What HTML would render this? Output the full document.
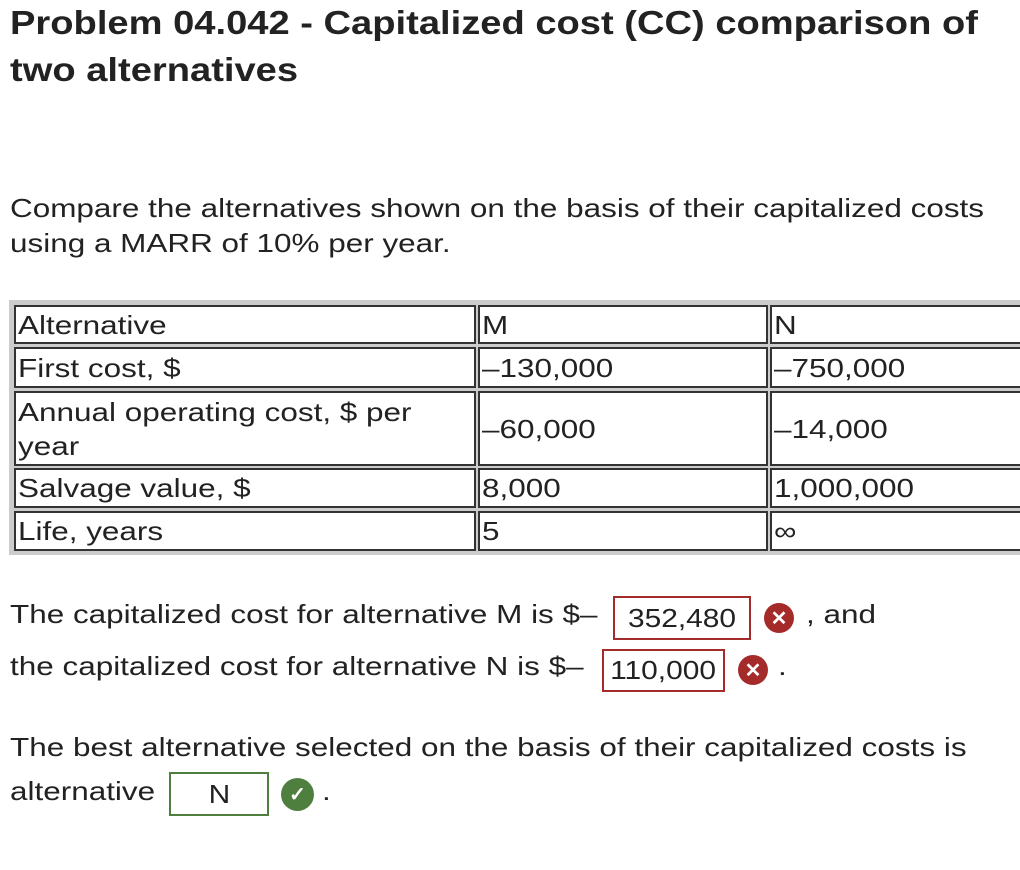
<!DOCTYPE html>
<html><head><meta charset="utf-8"><style>
body{margin:0;width:1020px;height:870px;background:#fff;font-family:"Liberation Sans",sans-serif;color:#222;position:relative;overflow:hidden}
.a{position:absolute;white-space:nowrap;transform-origin:0 0}
.t{font-weight:bold;font-size:33px;color:#222;transform:scaleX(1.155)}
.p{font-size:26px;transform:scaleX(1.21)}
.cell{position:absolute;border:2px solid #333;box-shadow:0 0 0 2px #ccc;box-sizing:border-box;font-size:26px;line-height:34px;padding-left:2px;display:flex;align-items:center;white-space:nowrap}
.s{display:inline-block;transform:scaleX(1.21);transform-origin:0 50%}
.box{position:absolute;box-sizing:border-box;border:2px solid #a52a2a;font-size:26px;display:flex;align-items:center;justify-content:center}
.box span{display:inline-block;transform:scaleX(1.15)}
.ic{position:absolute;width:30px;height:30px;border-radius:50%;color:#fff;font-weight:bold;font-size:20px;display:flex;align-items:center;justify-content:center}
</style></head><body>
<div class="a t" style="left:10px;top:4px">Problem 04.042 - Capitalized cost (CC) comparison of</div>
<div class="a t" style="left:10px;top:51px">two alternatives</div>
<div class="a p" style="left:10px;top:193px">Compare the alternatives shown on the basis of their capitalized costs</div>
<div class="a p" style="left:10px;top:228px">using a MARR of 10% per year.</div>
<div class="a" style="left:9px;top:300px;width:1020px;height:255px;border:3px solid #ccc;border-right:none;box-sizing:border-box"></div>
<div>
<div class="cell" style="left:14px;top:305px;width:462px;height:39px"><span class="s">Alternative</span></div>
<div class="cell" style="left:478px;top:305px;width:290px;height:39px"><span class="s">M</span></div>
<div class="cell" style="left:770px;top:305px;width:260px;height:39px"><span class="s">N</span></div>
<div class="cell" style="left:14px;top:347px;width:462px;height:41px"><span class="s">First cost, $</span></div>
<div class="cell" style="left:478px;top:347px;width:290px;height:41px"><span class="s">–130,000</span></div>
<div class="cell" style="left:770px;top:347px;width:260px;height:41px"><span class="s">–750,000</span></div>
<div class="cell" style="left:14px;top:391px;width:462px;height:75px"><span class="s">Annual operating cost, $ per<br>year</span></div>
<div class="cell" style="left:478px;top:391px;width:290px;height:75px"><span class="s">–60,000</span></div>
<div class="cell" style="left:770px;top:391px;width:260px;height:75px"><span class="s">–14,000</span></div>
<div class="cell" style="left:14px;top:468px;width:462px;height:40px"><span class="s">Salvage value, $</span></div>
<div class="cell" style="left:478px;top:468px;width:290px;height:40px"><span class="s">8,000</span></div>
<div class="cell" style="left:770px;top:468px;width:260px;height:40px"><span class="s">1,000,000</span></div>
<div class="cell" style="left:14px;top:511px;width:462px;height:40px"><span class="s">Life, years</span></div>
<div class="cell" style="left:478px;top:511px;width:290px;height:40px"><span class="s">5</span></div>
<div class="cell" style="left:770px;top:511px;width:260px;height:40px"><span class="s">∞</span></div>
</div>
<div class="a p" style="left:10px;top:599px">The capitalized cost for alternative M is $–</div>
<div class="box" style="left:613px;top:596px;width:138px;height:44px"><span>352,480</span></div>
<div class="ic" style="left:764px;top:603px;background:#a52a2a">✕</div>
<div class="a p" style="left:806px;top:599px">, and</div>
<div class="a p" style="left:10px;top:651px">the capitalized cost for alternative N is $–</div>
<div class="box" style="left:602px;top:649px;width:123px;height:43px"><span>110,000</span></div>
<div class="ic" style="left:738px;top:655px;background:#a52a2a">✕</div>
<div class="a p" style="left:778px;top:651px">.</div>
<div class="a p" style="left:10px;top:732px">The best alternative selected on the basis of their capitalized costs is</div>
<div class="a p" style="left:10px;top:776px">alternative</div>
<div class="box" style="left:169px;top:772px;width:100px;height:44px;border-color:#4f7f3f"><span>N</span></div>
<div class="ic" style="left:281px;top:778px;width:33px;height:33px;background:#4f7f3f">✓</div>
<div class="a p" style="left:322px;top:776px">.</div>
</body></html>
